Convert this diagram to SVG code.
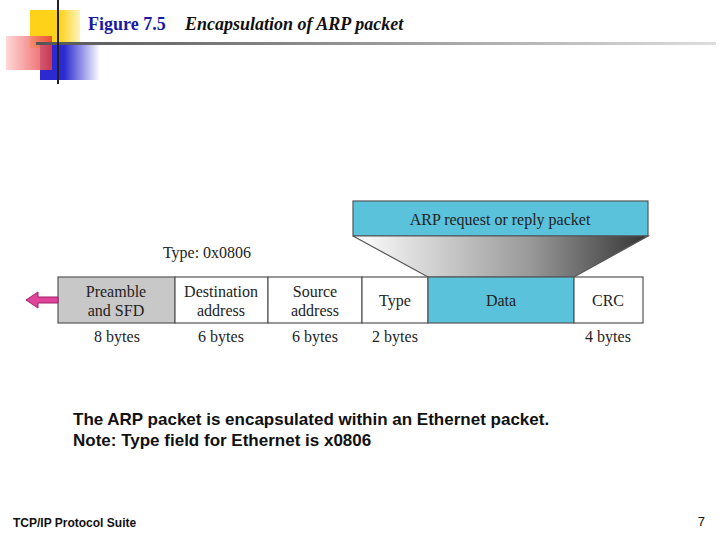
<svg xmlns="http://www.w3.org/2000/svg" width="728" height="546" viewBox="0 0 728 546">
<defs>
<linearGradient id="tg" x1="0" y1="0" x2="1" y2="0"><stop offset="0" stop-color="#ffffff"/><stop offset="0.6" stop-color="#999"/><stop offset="1" stop-color="#333"/></linearGradient>
<linearGradient id="yl" x1="0" y1="0" x2="1" y2="0"><stop offset="0.6" stop-color="#ffd21a"/><stop offset="1" stop-color="#fff3c0"/></linearGradient>
<linearGradient id="rd" x1="0" y1="0" x2="1" y2="0"><stop offset="0" stop-color="#ffd0d0"/><stop offset="1" stop-color="#e83a3a"/></linearGradient>
<linearGradient id="bl" x1="0" y1="0" x2="1" y2="0"><stop offset="0.4" stop-color="#2a2ad0"/><stop offset="1" stop-color="#ffffff"/></linearGradient>
<linearGradient id="ln" x1="0" y1="0" x2="1" y2="0"><stop offset="0" stop-color="#555"/><stop offset="1" stop-color="#ddd"/></linearGradient>
<style>.t{font-family:"Liberation Serif",serif;font-size:16px;fill:#222;text-anchor:middle}.b{stroke:#555;stroke-width:1.2}</style>
</defs>
<rect width="728" height="546" fill="#fff"/>
<g id="decor">
<rect x="30" y="10" width="50" height="38" fill="url(#yl)"/>
<rect x="40" y="44" width="60" height="36" fill="url(#bl)"/>
<rect x="6" y="36" width="46" height="34" fill="url(#rd)" opacity="0.85"/>
<rect x="36" y="42" width="680" height="3" fill="url(#ln)"/>
<line x1="58" y1="0" x2="58" y2="84" stroke="#222" stroke-width="2"/>
</g>
<text x="88" y="30" font-family="Liberation Serif,serif" font-size="18" font-weight="bold" fill="#1a1aa0">Figure 7.5</text>
<text x="185" y="30" font-family="Liberation Serif,serif" font-size="18" font-weight="bold" font-style="italic" fill="#111">Encapsulation of ARP packet</text>
<g id="arp"><rect x="353" y="201" width="295" height="35" fill="#5bc2dc" class="b"/><text class="t" x="500" y="225">ARP request or reply packet</text></g>
<g id="funnel"><polygon points="353,236 648,236 574,277 428,277" fill="url(#tg)" class="b"/></g>
<text class="t" x="207" y="258">Type: 0x0806</text>
<g id="preamble"><rect x="58" y="277" width="117" height="46" fill="#c8c8c8" class="b"/><text class="t" x="116" y="297">Preamble</text><text class="t" x="116" y="316">and SFD</text></g>
<g id="dest"><rect x="175" y="277" width="93" height="46" fill="#fff" class="b"/><text class="t" x="221" y="297">Destination</text><text class="t" x="221" y="316">address</text></g>
<g id="src"><rect x="268" y="277" width="94" height="46" fill="#fff" class="b"/><text class="t" x="315" y="297">Source</text><text class="t" x="315" y="316">address</text></g>
<g id="type"><rect x="362" y="277" width="66" height="46" fill="#fff" class="b"/><text class="t" x="395" y="306">Type</text></g>
<g id="data"><rect x="428" y="277" width="146" height="46" fill="#5bc2dc" class="b"/><text class="t" x="501" y="306">Data</text></g>
<g id="crc"><rect x="574" y="277" width="69" height="46" fill="#fff" class="b"/><text class="t" x="608" y="306">CRC</text></g>
<g id="connectors"><polygon points="26,300 38,292 38,297 58,297 58,303 38,303 38,308" fill="#e0449a" stroke="#a0206a" stroke-width="1"/></g>
<g><text class="t" x="117" y="342">8 bytes</text><text class="t" x="221" y="342">6 bytes</text><text class="t" x="315" y="342">6 bytes</text><text class="t" x="395" y="342">2 bytes</text><text class="t" x="608" y="342">4 bytes</text></g>
<text x="73" y="425" font-family="Liberation Sans,sans-serif" font-size="17" font-weight="bold" fill="#111">The ARP packet is encapsulated within an Ethernet packet.</text>
<text x="73" y="446" font-family="Liberation Sans,sans-serif" font-size="17" font-weight="bold" fill="#111">Note: Type field for Ethernet is x0806</text>
<text x="13" y="527" font-family="Liberation Sans,sans-serif" font-size="12" font-weight="bold" fill="#111">TCP/IP Protocol Suite</text>
<text x="705" y="526" font-family="Liberation Sans,sans-serif" font-size="13" fill="#111" text-anchor="end">7</text>
</svg>
